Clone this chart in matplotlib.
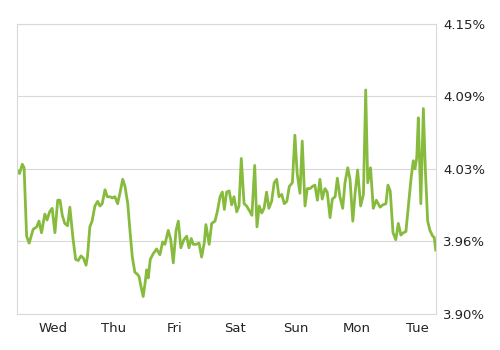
import matplotlib
matplotlib.use("Agg")
from matplotlib import pyplot as plt

# hours relative to Wednesday tick, rate in percent
hours = [-14.2, -13.2, -12.1, -11.4, -10.4, -9.4, -7.8, -6.4, -5.5, -4.5,
         -3.2, -2.3, -1.3, -0.3, 0.8, 1.9, 2.8, 3.7, 4.7, 5.8,
         6.7, 8.0, 9.0, 10.0, 11.1, 12.1, 13.1, 13.7, 14.6, 15.5,
         16.6, 17.7, 18.6, 19.5, 20.6, 21.5, 22.5, 23.5, 24.5, 25.6,
         26.5, 27.6, 28.5, 29.6, 30.5, 31.4, 32.4, 33.5, 34.1, 34.8,
         35.7, 36.4, 37.1, 37.7, 38.5, 39.7, 41.0, 42.3, 43.4, 44.3,
         45.6, 46.6, 47.6, 48.7, 49.6, 50.6, 51.8, 52.9, 53.8, 54.7,
         55.5, 56.6, 57.8, 58.8, 59.9, 60.5, 61.8, 62.8, 64.1, 65.0,
         66.1, 67.0, 67.8, 68.7, 69.7, 70.7, 71.6, 72.7, 73.6, 74.5,
         75.6, 76.6, 77.7, 78.7, 79.8, 80.7, 81.6, 82.6, 83.5, 84.5,
         85.4, 86.5, 87.5, 88.5, 89.4, 90.5, 91.5, 92.5, 93.5, 94.7,
         95.7, 96.6, 97.7, 98.6, 99.7, 100.6, 101.7, 102.7, 103.6, 104.6,
         105.6, 106.5, 107.6, 108.5, 109.6, 110.5, 111.6, 112.5, 113.5, 114.6,
         115.5, 116.6, 117.5, 118.6, 119.5, 120.5, 121.7, 122.8, 123.7, 124.5,
         125.6, 126.7, 127.9, 129.4, 130.5, 131.7, 132.5, 133.4, 134.5, 135.6,
         136.6, 137.6, 138.6, 139.6, 140.6, 141.6, 142.5, 143.2, 143.9, 144.5,
         145.5, 146.5, 147.3, 148.2, 149.1, 150.2, 150.8, 151.4]

rates = [4.024, 4.021, 4.029, 4.026, 3.967, 3.961, 3.973, 3.975, 3.980, 3.970,
         3.986, 3.981, 3.988, 3.991, 3.970, 3.998, 3.998, 3.985, 3.978, 3.976,
         3.992, 3.964, 3.947, 3.946, 3.950, 3.948, 3.942, 3.950, 3.975, 3.980,
         3.993, 3.997, 3.993, 3.995, 4.007, 4.001, 4.001, 4.000, 4.001, 3.995,
         4.004, 4.016, 4.010, 3.995, 3.971, 3.949, 3.936, 3.934, 3.932, 3.924,
         3.915, 3.926, 3.938, 3.931, 3.947, 3.952, 3.956, 3.951, 3.962, 3.960,
         3.972, 3.964, 3.944, 3.972, 3.980, 3.957, 3.964, 3.967, 3.957, 3.965,
         3.960, 3.960, 3.961, 3.949, 3.962, 3.977, 3.960, 3.978, 3.980, 3.988,
         4.001, 4.005, 3.990, 4.005, 4.006, 3.994, 4.001, 3.988, 3.993, 4.034,
         3.995, 3.993, 3.989, 3.985, 4.028, 3.975, 3.993, 3.987, 3.991, 4.005,
         3.991, 3.997, 4.013, 4.016, 4.001, 4.003, 3.995, 3.997, 4.010, 4.013,
         4.054, 4.021, 4.004, 4.049, 3.993, 4.008, 4.008, 4.010, 4.011, 3.998,
         4.016, 3.999, 4.008, 4.005, 3.983, 3.999, 4.001, 4.017, 4.001, 3.991,
         4.013, 4.026, 4.016, 3.980, 4.004, 4.024, 3.993, 4.003, 4.093, 4.013,
         4.026, 3.991, 3.998, 3.992, 3.994, 3.995, 4.011, 4.006, 3.970, 3.964,
         3.978, 3.968, 3.970, 3.971, 3.994, 4.016, 4.032, 4.025, 4.035, 4.069,
         3.995, 4.077, 4.024, 3.980, 3.972, 3.967, 3.966, 3.955]

day_ticks = [0, 24, 48, 72, 96, 120, 144]
day_labels = ["Wed", "Thu", "Fri", "Sat", "Sun", "Mon", "Tue"]
rate_ticks = [3.90, 3.9625, 4.025, 4.0875, 4.15]
rate_labels = ["3.90%", "3.96%", "4.03%", "4.09%", "4.15%"]

fig = plt.figure(figsize=(5, 3.5), dpi=100)
ax = fig.add_axes([0.034, 0.103, 0.838, 0.829])

ax.plot(hours, rates, color="#86bb3d", linewidth=2.0, solid_joinstyle="round")

ax.set_xlim(-14.2, 151.5)
ax.set_ylim(3.90, 4.15)
ax.set_xticks(day_ticks)
ax.set_xticklabels(day_labels)
ax.set_yticks(rate_ticks)
ax.set_yticklabels(rate_labels)
ax.yaxis.tick_right()
ax.tick_params(axis="both", length=0, labelsize=9.5, colors="#222222")
ax.tick_params(axis="x", pad=6)
ax.tick_params(axis="y", pad=5)
ax.grid(axis="y", color="#d9d9d9", linewidth=0.8)
ax.set_axisbelow(True)
for side in ax.spines.values():
    side.set_color("#d9d9d9")
    side.set_linewidth(0.8)

fig.savefig("out.png", dpi=100)
